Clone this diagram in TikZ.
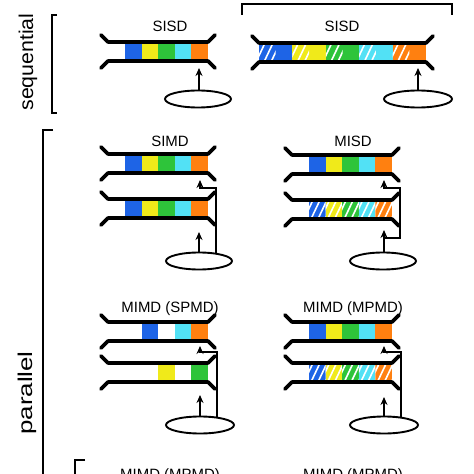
\documentclass[tikz,border=0pt]{standalone}
\usepackage{fontspec}
\setmainfont{Liberation Sans}
\usetikzlibrary{shapes.geometric,arrows.meta,calc}
\definecolor{cblue}{RGB}{30,100,230}
\definecolor{cyellow}{RGB}{240,234,26}
\definecolor{cgreen}{RGB}{46,196,58}
\definecolor{ccyan}{RGB}{82,225,245}
\definecolor{corange}{RGB}{255,128,16}
\newcommand\cellrow[4]{% #1 x0, #2 ytop, #3 width, #4 list idx/color
  \foreach \i/\c in {#4} {\fill[\c] ({#1+(\i-1)*#3},#2) rectangle ++(#3,19);}}
\newcommand\hatchrow[4]{% fully hatched cells
  \foreach \i/\c in {#4} {
    \begin{scope}
      \clip ({#1+(\i-1)*#3},#2) rectangle ++(#3,19);
      \fill[\c] ({#1+(\i-1)*#3},#2) rectangle ++(#3,19);
      \foreach \s in {-5,2,9,16} \draw[hatch] ({#1+(\i-1)*#3+\s},{#2+19}) -- ++(9,-19);
    \end{scope}}}
\newcommand\halfhatchrow[4]{% cells hatched on their left half
  \foreach \i/\c in {#4} {
    \fill[\c] ({#1+(\i-1)*#3},#2) rectangle ++(#3,19);
    \begin{scope}
      \clip ({#1+(\i-1)*#3},#2) rectangle ++({#3/2},19);
      \foreach \s in {-3,5,12} \draw[hatch] ({#1+(\i-1)*#3+\s},{#2+19}) -- ++(9,-19);
    \end{scope}}}
\begin{document}
\begin{tikzpicture}[x=1bp,y=-1bp,
  pline/.style={line width=3.6bp, line cap=round, line join=round},
  brk/.style={line width=2bp},
  hatch/.style={white, line width=1.6bp},
  conn/.style={line width=1.8bp, -{Stealth[length=8bp,width=7bp]}},
  ell/.style={ellipse, draw, line width=1.9bp, minimum width=66bp, minimum height=17bp, inner sep=0pt},
  title/.style={font=\fontsize{15}{16}\selectfont, anchor=base, inner sep=0pt},
  side/.style={rotate=90, inner sep=0pt, font=\fontsize{20}{20}\selectfont},
  pics/pipe/.style={code={
    \draw[pline] (-7,-7) -- (0,0) -- (#1,0) -- ({#1+7},-7);
    \draw[pline] (-7,26) -- (0,19) -- (#1,19) -- ({#1+7},26);
  }}]
\useasboundingbox (0,0) rectangle (474,474);
\clip (0,0) rectangle (474,474);

% side labels and brackets
\node[side] (seq) at (28,62) {\scalebox{1.07}[1]{sequential}};
\draw[brk] (57,15) -- (52,15) -- (52,113) -- (57,113);
\node[side] (par) at (27,393) {\scalebox{1.3}[1]{parallel}};
\draw[brk] (53,130) -- (43,130) -- (43,480);
\draw[brk] (242,15) -- (242,4) -- (452,4) -- (452,15);
\draw[brk] (85,460) -- (75,460) -- (75,480);

% titles
\node[title] (t1) at (170,32) {SISD};
\node[title] (t2) at (342,32) {SISD};
\node[title] (t3) at (170,147) {SIMD};
\node[title] (t4) at (353,147) {MISD};
\node[title] (t5) at (170,312) {MIMD (SPMD)};
\node[title] (t6) at (353,312) {MIMD (MPMD)};
\node[title] (t7) at (170,479) {MIMD (MPMD)};
\node[title] (t8) at (353,479) {MIMD (MPMD)};

% cells
\cellrow{125}{42}{16.6}{1/cblue,2/cyellow,3/cgreen,4/ccyan,5/corange}
\halfhatchrow{259}{43}{33.4}{1/cblue,2/cyellow,3/cgreen,4/ccyan,5/corange}
\cellrow{125}{154}{16.6}{1/cblue,2/cyellow,3/cgreen,4/ccyan,5/corange}
\cellrow{125}{199}{16.6}{1/cblue,2/cyellow,3/cgreen,4/ccyan,5/corange}
\cellrow{309}{155}{16.6}{1/cblue,2/cyellow,3/cgreen,4/ccyan,5/corange}
\hatchrow{309}{200}{16.6}{1/cblue,2/cyellow,3/cgreen,4/ccyan,5/corange}
\cellrow{125}{322}{16.6}{2/cblue,4/ccyan,5/corange}
\cellrow{125}{363}{16.6}{3/cyellow,5/cgreen}
\cellrow{309}{322}{16.6}{1/cblue,2/cyellow,3/cgreen,4/ccyan,5/corange}
\hatchrow{309}{363}{16.6}{1/cblue,2/cyellow,3/cgreen,4/ccyan,5/corange}

% pipelines
\pic at (108,42) {pipe=100};
\pic at (259,43) {pipe=167};
\pic at (108,154) {pipe=100};
\pic at (108,199) {pipe=100};
\pic at (292,155) {pipe=100};
\pic at (292,200) {pipe=100};
\pic at (108,322) {pipe=100};
\pic at (108,363) {pipe=100};
\pic at (292,322) {pipe=100};
\pic at (292,363) {pipe=100};

% instruction streams
\node[ell] (e1) at (198,99) {};
\node[ell, minimum width=68bp] (e6) at (418,99) {};
\node[ell] (e2) at (199,261) {};
\node[ell] (e3) at (383,261) {};
\node[ell, minimum width=68bp] (e4) at (200,425) {};
\node[ell, minimum width=68bp] (e5) at (384,425) {};

\coordinate (a1) at (199,68);
\coordinate (a6) at (418,68);
\coordinate (a2) at (199,232);
\coordinate (b2) at (200,180);
\coordinate (c2) at (216,188);
\coordinate (a3) at (384,230);
\coordinate (d3) at (384,238);
\coordinate (b3) at (384,180);
\coordinate (c3) at (400,188);
\coordinate (a4) at (200,395);
\coordinate (b4) at (200,346);
\coordinate (c4) at (217,352);
\coordinate (a5) at (384,397);
\coordinate (b5) at (384,346);
\coordinate (c5) at (401,352);

\draw[conn] (e1.north -| a1) -- (a1);
\draw[conn] (e6.north -| a6) -- (a6);
\draw[conn] (e2.north -| a2) -- (a2);
\draw[conn] ($(e2.north -| c2)+(0,1.3)$) -- (c2) -| (b2);
\draw[conn] (e3.north -| a3) -- (a3);
\draw[conn] (d3) -| (c3) -| (b3);
\draw[conn] (e4.north -| a4) -- (a4);
\draw[conn] ($(e4.north -| c4)+(0,1.3)$) -- (c4) -| (b4);
\draw[conn] (e5.north -| a5) -- (a5);
\draw[conn] ($(e5.north -| c5)+(0,1.3)$) -- (c5) -| (b5);
\end{tikzpicture}
\end{document}
